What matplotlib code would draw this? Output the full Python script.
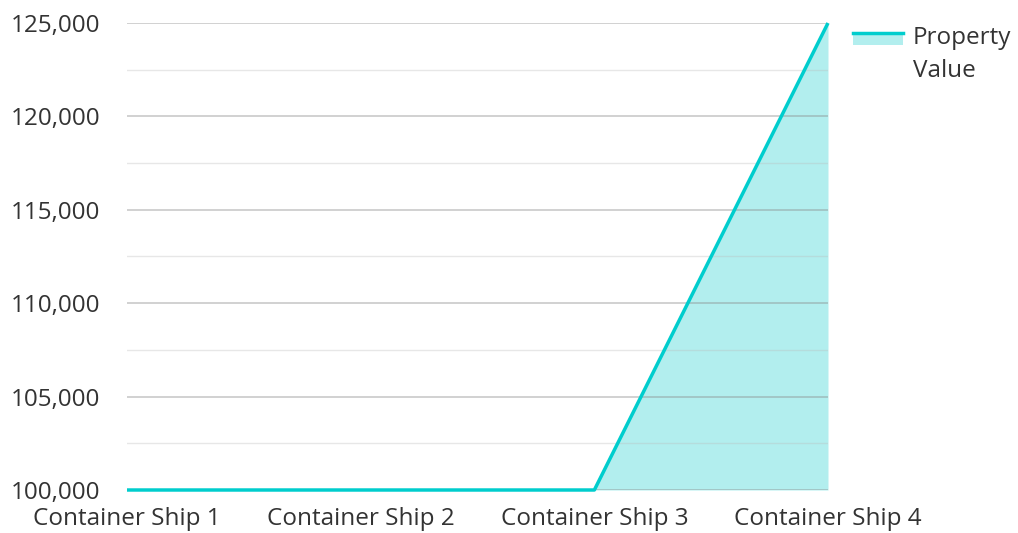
import matplotlib.pyplot as plt
import matplotlib.patches as mpatches
from matplotlib.lines import Line2D
from matplotlib.ticker import FuncFormatter, MultipleLocator

# --- Data ---
ships  = ["Container Ship 1", "Container Ship 2", "Container Ship 3", "Container Ship 4"]
values = [100000, 100000, 100000, 125000]
label  = "Property\nValue"

LINE_COLOR = "#00CDCD"
FILL_COLOR = "#B2EEEE"

plt.rcParams["font.family"] = ["Open Sans", "DejaVu Sans"]

fig = plt.figure(figsize=(10.18, 5.33), dpi=100)
ax = fig.add_axes([127 / 1018, 1 - 490 / 533, (828 - 127) / 1018, (490 - 23) / 533])

x = list(range(len(ships)))
ax.fill_between(x, 100000, values, color=FILL_COLOR, lw=0, zorder=1)
ax.plot(x, values, color=LINE_COLOR, lw=2.5, zorder=4, solid_capstyle="butt", clip_on=False)

ax.set_xlim(0, len(ships) - 1)
ax.set_ylim(100000, 125000)
ax.yaxis.set_major_locator(MultipleLocator(5000))
ax.yaxis.set_minor_locator(MultipleLocator(2500))
ax.yaxis.set_major_formatter(FuncFormatter(lambda v, p: f"{int(v):,}"))
ax.set_xticks(x)
ax.set_xticklabels(ships)

ax.grid(axis="y", which="major", color="#888888", alpha=0.45, lw=1.2, zorder=2)
ax.grid(axis="y", which="minor", color="#bbbbbb", alpha=0.35, lw=1.0, zorder=2)
ax.set_axisbelow(False)
for s in ax.spines.values():
    s.set_visible(False)
ax.tick_params(axis="both", which="both", length=0, labelsize=17.5, labelcolor="#333333")
ax.tick_params(axis="y", pad=19)
ax.tick_params(axis="x", pad=12)


class AreaHandler:
    def legend_artist(self, legend, orig_handle, fontsize, handlebox):
        x0, y0 = handlebox.xdescent, handlebox.ydescent
        w, h = handlebox.width, handlebox.height
        top = y0 + h * 0.36
        fh = fontsize * 0.47
        rect = mpatches.Rectangle((x0, top - fh), w, fh, facecolor=FILL_COLOR,
                                  lw=0, transform=handlebox.get_transform())
        ln = Line2D([x0, x0 + w], [top, top], color=LINE_COLOR, lw=2.5,
                    transform=handlebox.get_transform())
        handlebox.add_artist(rect)
        handlebox.add_artist(ln)
        return rect


area = mpatches.Patch(color=FILL_COLOR)
leg = fig.legend([area], [label], handler_map={mpatches.Patch: AreaHandler()},
                 loc="upper left", bbox_to_anchor=(831 / 1018, 1 - 4 / 533),
                 frameon=False, fontsize=17.5, handlelength=2.06, handleheight=2.4,
                 handletextpad=0.4, labelcolor="#333333")
for t in leg.get_texts():
    t.set_linespacing(1.5)

fig.savefig("out.png", dpi=100)
